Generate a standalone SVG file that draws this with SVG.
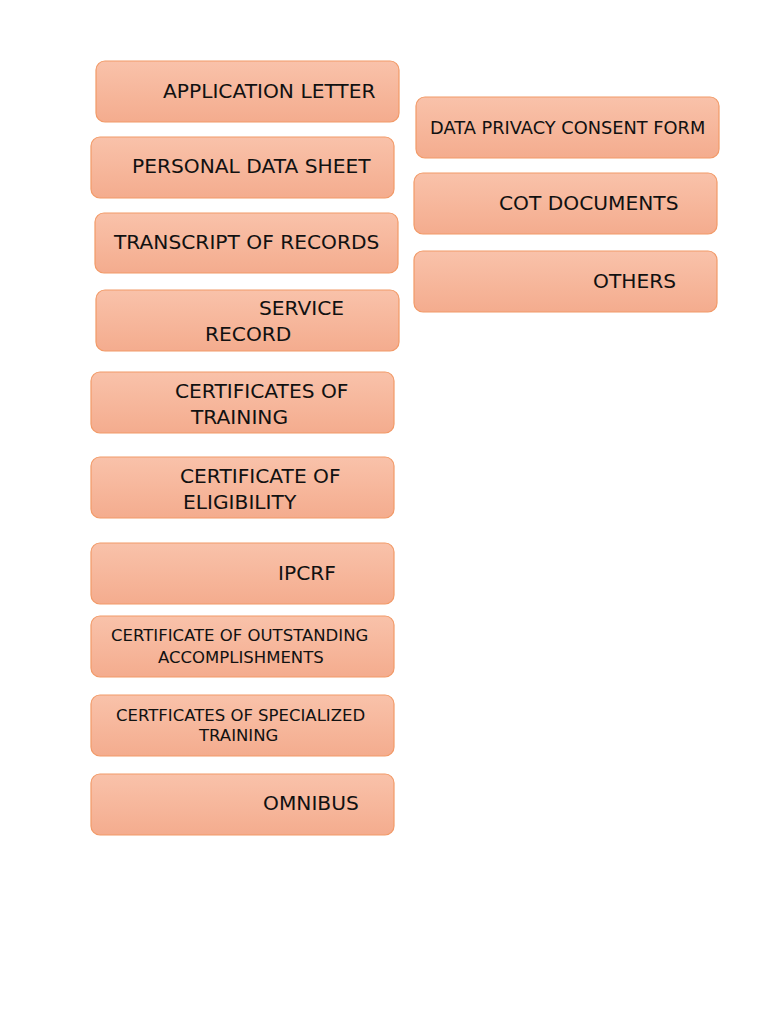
<svg xmlns="http://www.w3.org/2000/svg" width="768" height="1024" viewBox="0 0 768 1024">
<defs>
<linearGradient id="g" x1="0" y1="0" x2="0" y2="1">
<stop offset="0" stop-color="#f9c2aa"/>
<stop offset="1" stop-color="#f4ac8e"/>
</linearGradient>
</defs>
<style>
rect{fill:url(#g);stroke:#f29a68;stroke-width:1.2}
text{font-family:"DejaVu Sans",sans-serif;fill:#111;font-size:20.2px}
.s{font-size:16.5px}
.m{font-size:17.8px}
</style>
<rect x="0" y="0" width="768" height="1024" style="fill:#fff;stroke:none"/>
<g id="n1"><rect x="96" y="61" width="303" height="61" rx="9"/><text x="163" y="98">APPLICATION LETTER</text></g>
<g id="n2"><rect x="91" y="137" width="303" height="61" rx="9"/><text x="132" y="173">PERSONAL DATA SHEET</text></g>
<g id="n3"><rect x="95" y="213" width="303" height="60" rx="9"/><text x="114" y="249">TRANSCRIPT OF RECORDS</text></g>
<g id="n4"><rect x="96" y="290" width="303" height="61" rx="9"/><text x="259" y="315">SERVICE</text><text x="205" y="341">RECORD</text></g>
<g id="n5"><rect x="91" y="372" width="303" height="61" rx="9"/><text x="175" y="398">CERTIFICATES OF</text><text x="191" y="424">TRAINING</text></g>
<g id="n6"><rect x="91" y="457" width="303" height="61" rx="9"/><text x="180" y="483">CERTIFICATE OF</text><text x="183" y="509">ELIGIBILITY</text></g>
<g id="n7"><rect x="91" y="543" width="303" height="61" rx="9"/><text x="278" y="580">IPCRF</text></g>
<g id="n8"><rect x="91" y="616" width="303" height="61" rx="9"/><text class="s" x="111" y="641">CERTIFICATE OF OUTSTANDING</text><text class="s" x="158" y="663">ACCOMPLISHMENTS</text></g>
<g id="n9"><rect x="91" y="695" width="303" height="61" rx="9"/><text class="s" x="116" y="721">CERTFICATES OF SPECIALIZED</text><text class="s" x="199" y="741">TRAINING</text></g>
<g id="n10"><rect x="91" y="774" width="303" height="61" rx="9"/><text x="263" y="810">OMNIBUS</text></g>
<g id="n11"><rect x="416" y="97" width="303" height="61" rx="9"/><text class="m" x="430" y="134">DATA PRIVACY CONSENT FORM</text></g>
<g id="n12"><rect x="414" y="173" width="303" height="61" rx="9"/><text x="499" y="210">COT DOCUMENTS</text></g>
<g id="n13"><rect x="414" y="251" width="303" height="61" rx="9"/><text x="593" y="288">OTHERS</text></g>
<g id="connectors"></g>
</svg>
